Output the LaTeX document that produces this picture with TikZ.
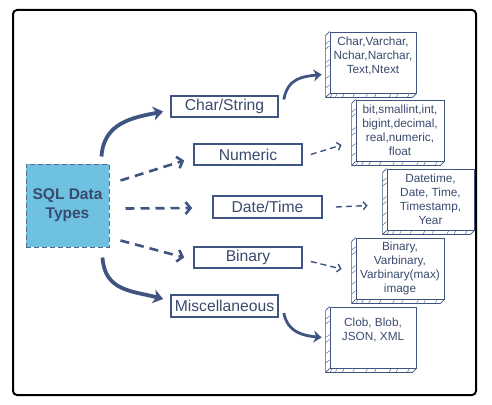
\documentclass[tikz,border=0pt]{standalone}
\usepackage{fontspec}
\setmainfont{Liberation Sans}
\usetikzlibrary{arrows.meta,calc}
\definecolor{ink}{HTML}{3F5480}
\definecolor{txt}{HTML}{3A4A6E}
\definecolor{sky}{HTML}{6EC1E1}
\definecolor{dashgrey}{HTML}{5A6A88}
\tikzset{
  catbox/.style={draw=ink, line width=1.6pt, rectangle, inner sep=0pt, text=txt,
    font=\fontsize{15.7}{18}\selectfont},
  typebox/.style={draw=ink, line width=0.8pt, rectangle, inner sep=0pt, text=txt,
    align=center, font=\fontsize{11.8}{14}\selectfont},
  rootbox/.style={draw=dashgrey, fill=sky, dashed, line width=1pt, dash pattern=on 5pt off 3pt,
    rectangle, inner sep=0pt, text=txt, align=center,
    font=\bfseries\fontsize{15.5}{19}\selectfont},
  bigarrow/.style={draw=ink, line width=3.8pt, -{Stealth[length=10pt,width=14pt,inset=3pt]}},
  midarrow/.style={draw=ink, line width=2.8pt, -{Stealth[length=8pt,width=12pt,inset=2.5pt]}},
  dasharrow/.style={draw=ink, line width=2.6pt, dash pattern=on 9pt off 6pt,
    -{Straight Barb[length=5pt,width=12pt]}},
  thinarrow/.style={draw=ink, line width=1.4pt, dash pattern=on 6pt off 4pt,
    -{Straight Barb[length=3.5pt,width=8pt]}},
  side/.style={draw=ink, line width=0.7pt},
}
\begin{document}
\begin{tikzpicture}[x=1pt,y=-1pt]
\useasboundingbox (0,0) rectangle (492,404);
\draw[line width=2pt, rounded corners=4pt] (13,10) rectangle (476,395);

% root
\node[rootbox, minimum width=83pt, minimum height=83pt] (sql) at (67.5,205.5) {SQL Data\\Types};

% categories
\node[catbox, minimum width=107pt, minimum height=21pt] (cs) at (224.5,106.5) {Char/String};
\node[catbox, minimum width=108pt, minimum height=21pt] (num) at (248,154.5) {Numeric};
\node[catbox, minimum width=109pt, minimum height=22pt] (dt) at (267.5,207) {Date/Time};
\node[catbox, minimum width=108pt, minimum height=21pt] (bin) at (248,257.5) {Binary};
\node[catbox, minimum width=107pt, minimum height=22pt] (misc) at (224.5,306) {Miscellaneous};

% type boxes
\node[typebox, minimum width=86pt, minimum height=61pt] (b1) at (373,62.5) {Char,Varchar,\\Nchar,Narchar,\\Text,Ntext\\[1pt]};
\node[typebox, minimum width=88pt, minimum height=61pt] (b2) at (400,130.5) {bit,smallint,int,\\bigint,decimal,\\real,numeric,\\float};
\node[typebox, minimum width=87pt, minimum height=61pt] (b3) at (430.5,199.5) {Datetime,\\Date, Time,\\Timestamp,\\Year};
\node[typebox, minimum width=88pt, minimum height=61pt] (b4) at (400,268.5) {Binary,\\Varbinary,\\Varbinary(max)\\image};
\node[typebox, minimum width=86pt, minimum height=61pt] (b5) at (373,337.5) {Clob, Blob,\\JSON, XML\\[2pt]};

% 3D sides with sketchy hatching
\foreach \n in {b1,b2,b3,b4,b5}{
  \draw[side] (\n.north west) -- ++(-4,4) -- ($(\n.south west)+(-4,4)$) -- ($(\n.south east)+(-4,4)$) -- (\n.south east);
  \draw[side] (\n.south west) -- ++(-4,4);
  \foreach \t in {0.12,0.2,0.42,0.5,0.68,0.83}{
    \draw[ink, line width=0.4pt] ($(\n.north west)!\t!(\n.south west)+(-4,5)$) -- ++(4,-3);
  }
  \foreach \t in {0.04,0.1,0.18,0.3,0.45,0.55,0.72,0.8,0.93}{
    \draw[ink, line width=0.4pt] ($(\n.south west)!\t!(\n.south east)+(-3,4)$) -- ++(2,-4);
  }
}

% root to categories
\draw[bigarrow] ([xshift=-8pt,yshift=7pt]sql.north east) .. controls +(2,-34) and +(-30,6) .. ([xshift=-7pt,yshift=-5pt]cs.west);
\draw[dasharrow] ([xshift=11pt,yshift=25pt]sql.east) -- ([xshift=-9pt,yshift=-6pt]num.west);
\draw[dasharrow] ([xshift=16pt,yshift=-3pt]sql.east) -- ([xshift=-20pt,yshift=-1pt]dt.west);
\draw[dasharrow] ([xshift=11pt,yshift=-35pt]sql.east) -- ([xshift=-9pt,yshift=-0pt]bin.west);
\draw[bigarrow] ([xshift=-7pt,yshift=-10pt]sql.south east) .. controls +(2,34) and +(-30,-8) .. ([xshift=-7pt,yshift=7pt]misc.west);

% categories to type boxes
\draw[midarrow] ([xshift=5pt,yshift=7pt]cs.east) .. controls +(4,-22) and +(-18,2) .. ([xshift=-8pt,yshift=-12pt]b1.west);
\draw[thinarrow] ([xshift=8pt]num.east) -- ([xshift=-14pt,yshift=-14.5pt]b2.west);
\draw[thinarrow] ([xshift=13pt]dt.east) -- ([xshift=-19pt,yshift=-6pt]b3.west);
\draw[thinarrow] ([xshift=8pt,yshift=-4pt]bin.east) -- ([xshift=-14pt,yshift=-0.5pt]b4.west);
\draw[midarrow] ([xshift=5pt,yshift=-7pt]misc.east) .. controls +(4,20) and +(-18,-2) .. ([xshift=-8pt]b5.west);
\end{tikzpicture}
\end{document}
